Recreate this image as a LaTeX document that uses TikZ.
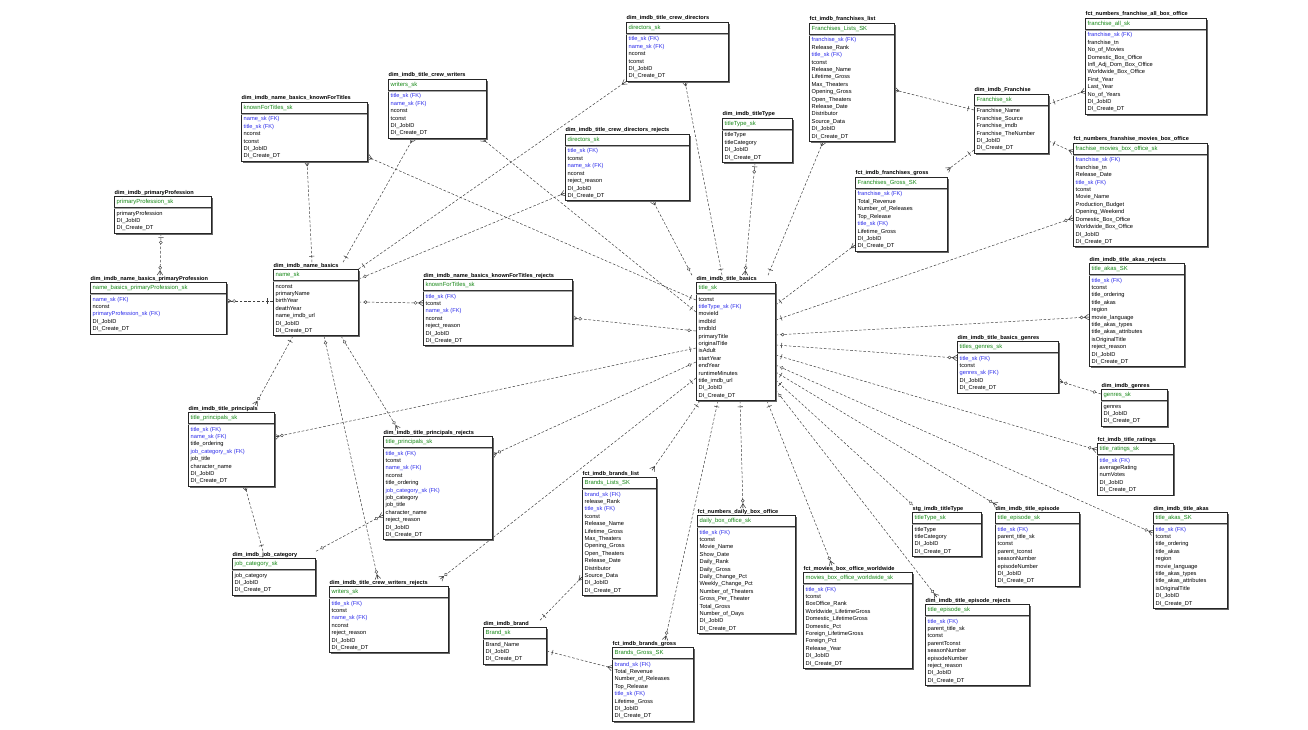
\documentclass[tikz,border=0pt]{standalone}
\usepackage{fontspec}
\setmainfont{Liberation Sans}
\usetikzlibrary{decorations.markings,shadows,backgrounds,calc}
\definecolor{hdrgreen}{RGB}{20,135,20}
\definecolor{fkblue}{RGB}{45,45,235}
\newcommand\fk[1]{\textcolor{fkblue}{#1}}
\newcommand\mbar{\draw[solid,line width=.55pt] (0,-2.6pt)--(0,2.6pt);}
\newcommand\mcirc{\draw[solid,line width=.45pt,fill=white] (0,0) circle (1.5pt);}
\newcommand\mcrow{\draw[solid,line width=.5pt] (-4.5pt,0)--(0,2.8pt) (-4.5pt,0)--(0,-2.8pt) (-4.5pt,0)--(0,0);}
\tikzset{
 rel/.style={draw=black!75,line width=.5pt,dash pattern=on 2.6pt off 1.8pt},
 sb/.style={postaction={decorate,decoration={markings,mark=at position 6pt with {\mbar}}}},
 sc/.style={postaction={decorate,decoration={markings,mark=at position 7pt with {\mcirc}}}},
 sbc/.style={postaction={decorate,decoration={markings,mark=at position 4pt with {\mbar},mark=at position 9pt with {\mcirc}}}},
 ecr/.style={postaction={decorate,decoration={markings,mark=at position 0.999 with {\mcrow}}}},
 ecc/.style={postaction={decorate,decoration={markings,mark=at position -7.5pt with {\mcirc},mark=at position 0.999 with {\mcrow}}}},
 ec/.style={postaction={decorate,decoration={markings,mark=at position -3pt with {\mcirc}}}},
 tbox/.style={draw=black!85,line width=.6pt,fill=white,inner sep=0pt,drop shadow={shadow xshift=1.5pt,shadow yshift=-1.5pt,fill=black!60,opacity=1}},
 ttl/.style={font=\fontsize{5.6}{6}\selectfont\bfseries,inner sep=.5pt},
 hdr/.style={font=\fontsize{5.9}{6}\selectfont,text=hdrgreen,inner sep=0pt},
 rowt/.style={font=\fontsize{5.7}{6}\selectfont,inner sep=0pt},
}
\newcommand\erbox[8]{%
 \pgfmathsetmacro\erh{22+7.4*(#5-1)}%
 \node[tbox,minimum width=#4pt,minimum height=\erh pt,anchor=north west] (#1) at (#2,#3) {};
 \node[ttl,anchor=base west] (#1t) at (#2,#3-2) {#6};
 \node[hdr,anchor=base west] at (#2+2.5,#3+7.2) {#7};
 \draw[line width=.5pt,black!80] (#2,#3+11) -- (#2+#4,#3+11);
 \draw[line width=.4pt,black!35] (#2,#3+12.3) -- (#2+#4,#3+12.3);
 \foreach \rw [count=\i from 0] in {#8} {\node[rowt,anchor=base west] at (#2+2.5,#3+19+7.4*\i) {\rw};}
}
\begin{document}
\catcode`\_=12
\begin{tikzpicture}[x=1pt,y=-1pt]
\useasboundingbox (0,0) rectangle (1308,730);
\erbox{kft}{241}{102}{126}{6}{dim_imdb_name_basics_knownForTitles}{knownForTitles_sk}{\fk{name_sk (FK)},\fk{title_sk (FK)},nconst,tconst,DI_JobID,DI_Create_DT}
\erbox{pp}{114}{196}{97}{3}{dim_imdb_primaryProfession}{primaryProfession_sk}{primaryProfession,DI_JobID,DI_Create_DT}
\erbox{npp}{90}{282}{136}{5}{dim_imdb_name_basics_primaryProfession}{name_basics_primaryProfession_sk}{\fk{name_sk (FK)},nconst,\fk{primaryProfession_sk (FK)},DI_JobID,DI_Create_DT}
\erbox{nb}{273}{269}{85}{7}{dim_imdb_name_basics}{name_sk}{nconst,primaryName,birthYear,deathYear,name_imdb_url,DI_JobID,DI_Create_DT}
\erbox{tp}{188}{412}{86}{8}{dim_imdb_title_principals}{title_principals_sk}{\fk{title_sk (FK)},\fk{name_sk (FK)},title_ordering,\fk{job_category_sk (FK)},job_title,character_name,DI_JobID,DI_Create_DT}
\erbox{wr}{388}{79}{98}{6}{dim_imdb_title_crew_writers}{writers_sk}{\fk{title_sk (FK)},\fk{name_sk (FK)},nconst,tconst,DI_JobID,DI_Create_DT}
\erbox{dir}{626}{22}{102}{6}{dim_imdb_title_crew_directors}{directors_sk}{\fk{title_sk (FK)},\fk{name_sk (FK)},nconst,tconst,DI_JobID,DI_Create_DT}
\erbox{dr}{565}{134}{124}{7}{dim_imdb_title_crew_directors_rejects}{directors_sk}{\fk{title_sk (FK)},tconst,\fk{name_sk (FK)},nconst,reject_reason,DI_JobID,DI_Create_DT}
\erbox{tt}{722}{118}{70}{4}{dim_imdb_titleType}{titleType_sk}{titleType,titleCategory,DI_JobID,DI_Create_DT}
\erbox{fl}{809}{23}{85}{14}{fct_imdb_franchises_list}{Franchises_Lists_SK}{\fk{franchise_sk (FK)},Release_Rank,\fk{title_sk (FK)},tconst,Release_Name,Lifetime_Gross,Max_Theaters,Opening_Gross,Open_Theaters,Release_Date,Distributor,Source_Data,DI_JobID,DI_Create_DT}
\erbox{fg}{855}{177}{92}{8}{fct_imdb_franchises_gross}{Franchises_Gross_SK}{\fk{franchise_sk (FK)},Total_Revenue,Number_of_Releases,Top_Release,\fk{title_sk (FK)},Lifetime_Gross,DI_JobID,DI_Create_DT}
\erbox{fr}{974}{94}{74}{6}{dim_imdb_Franchise}{Franchise_sk}{Franchise_Name,Franchise_Source,Franchise_imdb,Franchise_TheNumber,DI_JobID,DI_Create_DT}
\erbox{ab}{1085}{18}{121}{11}{fct_numbers_franchise_all_box_office}{franchise_all_sk}{\fk{franchise_sk (FK)},franchise_tn,No_of_Movies,Domestic_Box_Office,Infl_Adj_Dom_Box_Office,Worldwide_Box_Office,First_Year,Last_Year,No_of_Years,DI_JobID,DI_Create_DT}
\erbox{fm}{1073}{143}{134}{12}{fct_numbers_franshise_movies_box_office}{frachise_movies_box_office_sk}{\fk{franchise_sk (FK)},franchise_tn,Release_Date,\fk{title_sk (FK)},tconst,Movie_Name,Production_Budget,Opening_Weekend,Domestic_Box_Office,Worldwide_Box_Office,DI_JobID,DI_Create_DT}
\erbox{ar}{1089}{263}{95}{12}{dim_imdb_title_akas_rejects}{title_akas_SK}{\fk{title_sk (FK)},tconst,title_ordering,title_akas,region,movie_language,title_akas_types,title_akas_attributes,isOriginalTitle,reject_reason,DI_JobID,DI_Create_DT}
\erbox{bgn}{957}{341}{101}{5}{dim_imdb_title_basics_genres}{titles_genres_sk}{\fk{title_sk (FK)},tconst,\fk{genres_sk (FK)},DI_JobID,DI_Create_DT}
\erbox{ge}{1101}{389}{66}{3}{dim_imdb_genres}{genres_sk}{genres,DI_JobID,DI_Create_DT}
\erbox{ra}{1097}{443}{76}{5}{fct_imdb_title_ratings}{title_ratings_sk}{\fk{title_sk (FK)},averageRating,numVotes,DI_JobID,DI_Create_DT}
\erbox{ak}{1153}{512}{74}{11}{dim_imdb_title_akas}{title_akas_SK}{\fk{title_sk (FK)},tconst,title_ordering,title_akas,region,movie_language,title_akas_types,title_akas_attributes,isOriginalTitle,DI_JobID,DI_Create_DT}
\erbox{ep}{995}{512}{84}{8}{dim_imdb_title_episode}{title_episode_sk}{\fk{title_sk (FK)},parent_title_sk,tconst,parent_tconst,seasonNumber,episodeNumber,DI_JobID,DI_Create_DT}
\erbox{st}{912}{512}{69}{4}{stg_imdb_titleType}{titleType_sk}{titleType,titleCategory,DI_JobID,DI_Create_DT}
\erbox{mw}{803}{572}{109}{11}{fct_movies_box_office_worldwide}{movies_box_office_worldwide_sk}{\fk{title_sk (FK)},tconst,BoxOffice_Rank,Worldwide_LifetimeGross,Domestic_LifetimeGross,Domestic_Pct,Foreign_LifetimeGross,Foreign_Pct,Release_Year,DI_JobID,DI_Create_DT}
\erbox{er}{925}{604}{104}{9}{dim_imdb_title_episode_rejects}{title_episode_sk}{\fk{title_sk (FK)},parent_title_sk,tconst,parentTconst,seasonNumber,episodeNumber,reject_reason,DI_JobID,DI_Create_DT}
\erbox{db}{697}{515}{98}{14}{fct_numbers_daily_box_office}{daily_box_office_sk}{\fk{title_sk (FK)},tconst,Movie_Name,Show_Date,Daily_Rank,Daily_Gross,Daily_Change_Pct,Weekly_Change_Pct,Number_of_Theaters,Gross_Per_Theater,Total_Gross,Number_of_Days,DI_JobID,DI_Create_DT}
\erbox{bl}{582}{477}{74}{14}{fct_imdb_brands_list}{Brands_Lists_SK}{\fk{brand_sk (FK)},release_Rank,\fk{title_sk (FK)},tconst,Release_Name,Lifetime_Gross,Max_Theaters,Opening_Gross,Open_Theaters,Release_Date,Distributor,Source_Data,DI_JobID,DI_Create_DT}
\erbox{br}{483}{627}{63}{3}{dim_imdb_brand}{Brand_sk}{Brand_Name,DI_JobID,DI_Create_DT}
\erbox{bg}{612}{647}{81}{8}{fct_imdb_brands_gross}{Brands_Gross_SK}{\fk{brand_sk (FK)},Total_Revenue,Number_of_Releases,Top_Release,\fk{title_sk (FK)},Lifetime_Gross,DI_JobID,DI_Create_DT}
\erbox{kr}{423}{279}{149}{7}{dim_imdb_name_basics_knownForTitles_rejects}{knownForTitles_sk}{\fk{title_sk (FK)},tconst,\fk{name_sk (FK)},nconst,reject_reason,DI_JobID,DI_Create_DT}
\erbox{pr}{383}{436}{109}{12}{dim_imdb_title_principals_rejects}{title_principals_sk}{\fk{title_sk (FK)},tconst,\fk{name_sk (FK)},nconst,title_ordering,\fk{job_category_sk (FK)},job_category,job_title,character_name,reject_reason,DI_JobID,DI_Create_DT}
\erbox{jc}{232}{558}{83}{3}{dim_imdb_job_category}{job_category_sk}{job_category,DI_JobID,DI_Create_DT}
\erbox{wrr}{329}{586}{119}{7}{dim_imdb_title_crew_writers_rejects}{writers_sk}{\fk{title_sk (FK)},tconst,\fk{name_sk (FK)},nconst,reject_reason,DI_JobID,DI_Create_DT}
\erbox{tb}{696}{282}{79}{14}{dim_imdb_title_basics}{title_sk}{tconst,\fk{titleType_sk (FK)},movieId,imdbId,tmdbId,primaryTitle,originalTitle,isAdult,startYear,endYear,runtimeMinutes,title_imdb_url,DI_JobID,DI_Create_DT}
\begin{pgfonlayer}{background}
\fill[white] (0,0) rectangle (1308,730);
% name_basics
\draw[rel,sb,ecr] (nbt.north-|312,0) -- (kft.south-|307,0);
\draw[rel,sb,ecr] (nbt.north-|343,0) -- (wr.south-|413,0);
\draw[rel,sb,ecr] (nb.north east) -- (dir.south west);
\draw[rel,sc,ecr] (nb.east|-0,279) -- (dr.west|-0,193);
\draw[rel,sc,ecc] (nb.east|-0,302) -- (kr.west|-0,303);
\draw[rel,sb,ecc] (nb.west|-0,301) -- (npp.east|-0,301);
\draw[rel,sb,ecc] (nb.south-|293,0) -- (tpt.north-|255,0);
\draw[rel,sc,ecc] (nb.south-|324,0) -- (wrrt.north-|378,0);
\draw[rel,sc,ecc] (nb.south-|341,0) -- (prt.north-|398,0);
% others
\draw[rel,sbc,ecc] (pp.south-|161,0) -- (nppt.north-|160,0);
\draw[rel,sb,ecr] (jct.north-|263,0) -- (tp.south-|245,0);
\draw[rel,sc,ecc] (jct.north-|316,0) -- (pr.west|-0,515);
\draw[rel,sb,ecr] (brt.north-|540,0) -- (bl.west|-0,577);
\draw[rel,sb,ecr] (br.east|-0,651) -- (bg.west|-0,668);
\draw[rel,sb,ecr] (fr.west|-0,110) -- (fl.east|-0,90);
\draw[rel,sb,ecr] (fr.west|-0,150) -- (fgt.north-|947,0);
\draw[rel,sb,ecr] (fr.east|-0,104) -- (ab.west|-0,91);
\draw[rel,sb,ecr] (fr.east|-0,141) -- (fm.west|-0,152);
\draw[rel,sc,ecc] (ge.west|-0,394) -- (bgn.east|-0,381);
% title_basics top
\draw[rel,sc,ecr] (tbt.north-|692,0) -- (dr.south-|653,0);
\draw[rel,sb,ecr] (tbt.north-|722,0) -- (dir.south-|685,0);
\draw[rel,sbc,ecc] (tt.south-|755,0) -- (tbt.north-|745,0);
\draw[rel,sb,ecr] (tbt.north-|768,0) -- (fl.south-|823,0);
% title_basics left
\draw[rel,sb,ecr] (tb.west|-0,300) -- (kft.east|-0,157);
\draw[rel,sb,ecr] (tb.west|-0,312) -- (wr.south-|482,0);
\draw[rel,sc,ecc] (tb.west|-0,331) -- (kr.east|-0,318);
\draw[rel,sb,ecc] (tb.west|-0,348) -- (tp.east|-0,437);
\draw[rel,sc,ecc] (tb.west|-0,362) -- (pr.east|-0,455);
\draw[rel,sb,ecc] (tb.west|-0,378) -- (wrrt.north-|440,0);
% title_basics bottom
\draw[rel,sb,ecr] (tb.south-|700,0) -- (blt.north-|652,0);
\draw[rel,sb,ecc] (tb.south-|718,0) -- (bgt.north-|665,0);
\draw[rel,sb,ecc] (tb.south-|740,0) -- (dbt.north-|743,0);
\draw[rel,sb,ecc] (tb.south-|767,0) -- (mwt.north-|832,0);
% title_basics right
\draw[rel,sb,ecr] (tb.east|-0,305) -- (fg.west|-0,245);
\draw[rel,sb,ecc] (tb.east|-0,320) -- (fm.west|-0,218);
\draw[rel,sc,ecc] (tb.east|-0,335) -- (ar.west|-0,317);
\draw[rel,sb,ecc] (tb.east|-0,345) -- (bgn.west|-0,358);
\draw[rel,sb,ecc] (tb.east|-0,355) -- (ra.west|-0,450);
\draw[rel,sc,ecc] (tb.east|-0,365) -- (ak.west|-0,533);
\draw[rel,sb,ecc] (tb.east|-0,372) -- (ept.north-|997,0);
\draw[rel,sb,ec] (tb.east|-0,380) -- (stt.north-|913,0);
\draw[rel,sc,ecc] (tb.east|-0,390) -- (ert.north-|937,0);
\end{pgfonlayer}
\end{tikzpicture}
\end{document}
